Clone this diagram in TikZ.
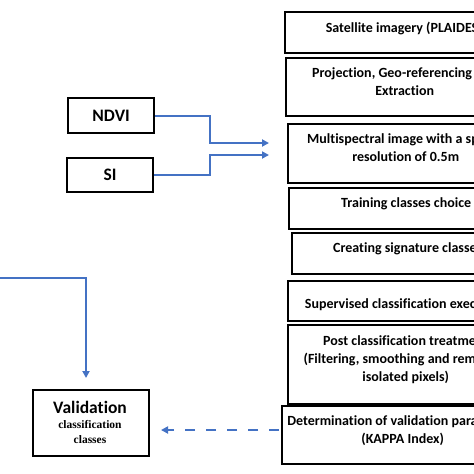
\documentclass[tikz,border=0pt]{standalone}
\usepackage{fontspec}
\setmainfont[Ligatures=NoCommon]{Carlito}
\newfontfamily\serifbold[Ligatures=NoCommon]{Liberation Serif}
\usetikzlibrary{arrows.meta}
\definecolor{arrowblue}{RGB}{68,114,196}
\tikzset{
  box/.style={draw=black, line width=2.4pt, rectangle, inner sep=0pt},
  stepboxtxt/.style={font=\bfseries\fontsize{14}{18}\selectfont, align=center, inner sep=0pt},
  smallbox/.style={draw=black, line width=2.2pt, rectangle, inner sep=0pt, font=\bfseries\fontsize{17.5}{18}\selectfont},
  valtxt/.style={font=\bfseries\fontsize{17.5}{18}\selectfont, inner sep=0pt},
  valsub/.style={font=\serifbold\bfseries\fontsize{11.5}{13}\selectfont, inner sep=0pt},
  conn/.style={draw=arrowblue, line width=1.8pt, -{Triangle[length=7pt,width=7pt]}},
  dconn/.style={conn, dash pattern=on 10pt off 11pt}
}
\begin{document}
\begin{tikzpicture}[x=1pt,y=-1pt]
\useasboundingbox (0,0) rectangle (474,474);
\clip (0,0) rectangle (474,474);
\fill[white] (0,0) rectangle (474,474);

% right column boxes; right edge at 522
\node[box, minimum width=238, minimum height=41, anchor=north west] (b1) at (284,11) {};
\node[stepboxtxt] (t1) at ([yshift=4.5]b1.center) {Satellite imagery (PLAIDES)};

\node[box, minimum width=237, minimum height=58, anchor=north west] (b2) at (285,57) {};
\node[stepboxtxt] (t2) at ([yshift=6]b2.center) {Projection, Geo-referencing and\\Extraction};

\node[box, minimum width=235, minimum height=59, anchor=north west] (b3) at (287,123) {};
\node[stepboxtxt] (t3) at ([yshift=6.5]b3.center) {Multispectral image with a spatial\\resolution of 0.5m};

\node[box, minimum width=234, minimum height=41, anchor=north west] (b4) at (288,187) {};
\node[stepboxtxt] (t4) at ([yshift=4.5]b4.center) {Training classes choice};

\node[box, minimum width=231, minimum height=41, anchor=north west] (b5) at (291,232) {};
\node[stepboxtxt] (t5) at ([yshift=4.5]b5.center) {Creating signature classes};

\node[box, minimum width=235, minimum height=40, anchor=north west] (b6) at (287,280) {};
\node[stepboxtxt] (t6) at ([yshift=-3]b6.center) {Supervised classification execution};

\node[box, minimum width=235, minimum height=79, anchor=north west] (b7) at (287,324) {};
\node[stepboxtxt] (t7) at ([yshift=5]b7.center) {Post classification treatment\\(Filtering, smoothing and removing\\isolated pixels)};

\node[box, minimum width=241, minimum height=58, anchor=north west] (b8) at (281,405) {};
\node[stepboxtxt] (t8) at ([yshift=5]b8.center) {Determination of validation parameters\\(KAPPA Index)};

% left boxes
\node[smallbox, minimum width=86, minimum height=35, anchor=north west] (ndvi) at (67,97) {NDVI};
\node[smallbox, minimum width=86, minimum height=34, anchor=north west] (si) at (66,157) {SI};

\node[box, line width=2.2pt, minimum width=116, minimum height=66, anchor=north west] (val) at (32,389) {};
\node[valtxt] (v1) at (90,407) {Validation};
\node[valsub] (v2) at (90,425) {classification};
\node[valsub] (v3) at (90,440) {classes};

% connectors
\coordinate (ndviend) at (269,143);
\coordinate (siend) at (269,155);
\coordinate (leftstart) at (-2,278);
\coordinate (valtop) at (86,378);
\coordinate (dstart) at (279,430);
\coordinate (dend) at (161,430);

\draw[conn] (ndvi.east) -| (210,131) |- (ndviend);
\draw[conn] (si.east) -| (210,167) |- (siend);
\draw[conn] (leftstart) -| (valtop);
\draw[dconn] (b8.west |- dstart) ++(-2,0) -- (dend);
\end{tikzpicture}
\end{document}
